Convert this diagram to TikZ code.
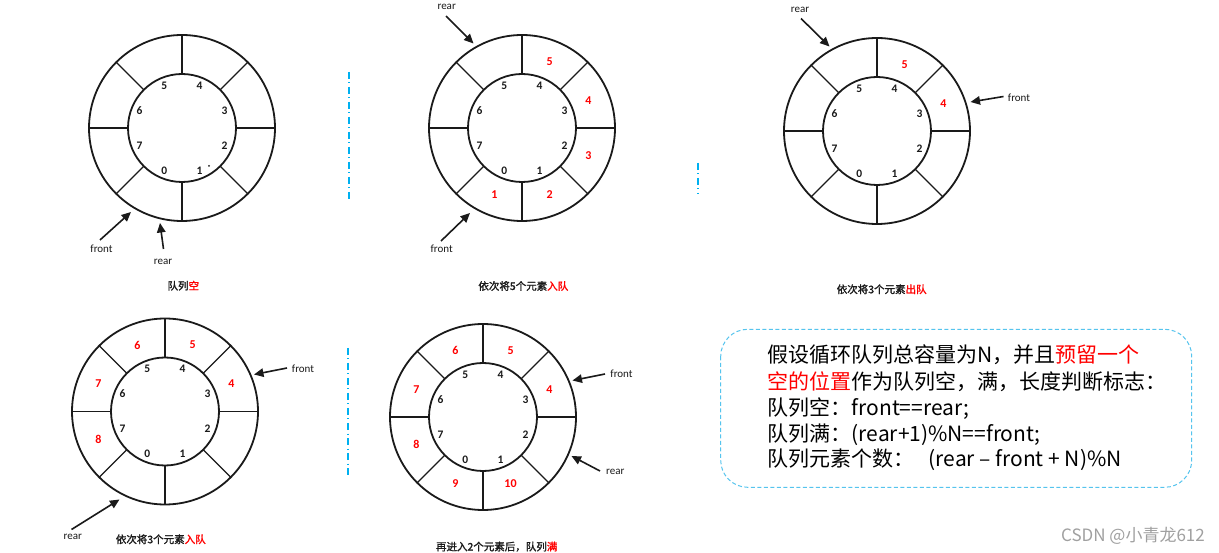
\documentclass[tikz,border=0pt]{standalone}
\usepackage{fontspec}
\setmainfont{Carlito}
\newfontfamily\cjk{Noto Sans CJK SC}
\newfontfamily\cjkb[FakeBold=1.5]{Noto Sans CJK SC}
\usetikzlibrary{arrows.meta}
\definecolor{qred}{HTML}{FF0000}
\definecolor{sepblue}{HTML}{00B0F0}
\definecolor{boxblue}{HTML}{55C4EE}
\definecolor{wm}{HTML}{A0A0A0}
\definecolor{ink}{HTML}{1A1A1A}
\tikzset{
  ringline/.style={line width=1.8pt, draw=ink},
  divline/.style={line width=1.3pt, draw=ink},
  idx/.style={font=\fontsize{11.5}{12}\selectfont\bfseries, text=ink, inner sep=0pt},
  val/.style={font=\fontsize{12}{13}\selectfont\bfseries, text=qred, inner sep=0pt},
  ptr/.style={line width=1.6pt, draw=ink, -{Triangle[length=9.5pt,width=8.5pt]}},
  ptrlabel/.style={font=\fontsize{11}{12}\selectfont, text=ink, inner sep=0pt},
  capt/.style={font={\cjkb\fontsize{10.5}{12}\selectfont}, text=ink, inner sep=0pt},
  sepline/.style={draw=sepblue, line width=2pt, dash pattern=on 7pt off 3.5pt on 1pt off 3.5pt},
  boxline/.style={draw=boxblue, line width=1pt, dash pattern=on 4pt off 2.5pt, rounded corners=27pt},
  boxtext/.style={font={\cjk\fontsize{21}{25}\selectfont}, text=black, inner sep=0pt, anchor=base west},
}
% ring: name, x, y
\newcommand\qring[3]{%
  \coordinate (#1) at (#2,#3);
  \draw[ringline] (#1) circle (93pt);
  \draw[ringline] (#1) circle (54pt);
  \foreach \a in {0,45,...,315}
    \draw[divline] ([shift={(\a:54pt)}]#1) -- ([shift={(\a:93pt)}]#1);
  \foreach \i in {0,...,7}{%
    \pgfmathsetmacro\ang{247.5+45*\i}
    \node[idx] (#1-i\i) at ([shift={(\ang:46pt)}]#1) {\i};
  }%
}
% values: name, list slot/value
\newcommand\qvals[2]{%
  \foreach \s/\v in {#2}{%
    \pgfmathsetmacro\ang{247.5+45*\s}
    \node[val] (#1-v\s) at ([shift={(\ang:72pt)}]#1) {\v};
  }%
}
\begin{document}
\begin{tikzpicture}[x=1pt,y=-1pt]
\fill[white] (0,0) rectangle (1219,553);
\useasboundingbox (0,0) rectangle (1219,553);

% ---------- ring 1: empty ----------
\qring{ra}{182}{128}
\fill[ink] (209,166) circle (1pt);
\coordinate (ra-ft) at (100,240);
\coordinate (ra-fh) at (131,212);
\draw[ptr] (ra-ft) -- (ra-fh);
\node[ptrlabel] (ra-fl) at (101.5,248.5) {front};
\coordinate (ra-rt) at (163.5,249);
\coordinate (ra-rh) at (160,223);
\draw[ptr] (ra-rt) -- (ra-rh);
\node[ptrlabel] (ra-rl) at (163,262) {rear};
\node[capt] (ra-cap) at (183.3,285.7) {队列\textcolor{qred}{空}};

% ---------- ring 2: 5 enqueued ----------
\qring{rb}{522}{128}
\qvals{rb}{0/1,1/2,2/3,3/4,4/5}
\coordinate (rb-rt) at (446,16);
\coordinate (rb-rh) at (473.5,43.5);
\draw[ptr] (rb-rt) -- (rb-rh);
\node[ptrlabel] (rb-rl) at (446.7,7) {rear};
\coordinate (rb-ft) at (441,241);
\coordinate (rb-fh) at (470,213);
\draw[ptr] (rb-ft) -- (rb-fh);
\node[ptrlabel] (rb-fl) at (441.7,249) {front};
\node[capt] (rb-cap) at (523.3,286) {依次将5个元素\textcolor{qred}{入队}};

% ---------- ring 3: 3 dequeued ----------
\qring{rc}{877}{131}
\qvals{rc}{3/4,4/5}
\coordinate (rc-rt) at (801,18.5);
\coordinate (rc-rh) at (829.5,46.5);
\draw[ptr] (rc-rt) -- (rc-rh);
\node[ptrlabel] (rc-rl) at (800,10) {rear};
\coordinate (rc-ft) at (1003.5,96.5);
\coordinate (rc-fh) at (970.5,102);
\draw[ptr] (rc-ft) -- (rc-fh);
\node[ptrlabel] (rc-fl) at (1019,97.3) {front};
\node[capt] (rc-cap) at (881.7,289.3) {依次将3个元素\textcolor{qred}{出队}};

% ---------- ring 4: 3 more enqueued ----------
\qring{rd}{165}{411.5}
\qvals{rd}{3/4,4/5,5/6,6/7,7/8}
\coordinate (rd-ft) at (287,368);
\coordinate (rd-fh) at (254,374.5);
\draw[ptr] (rd-ft) -- (rd-fh);
\node[ptrlabel] (rd-fl) at (303,368.3) {front};
\coordinate (rd-rt) at (71.5,529.5);
\coordinate (rd-rh) at (119.5,499.5);
\draw[ptr] (rd-rt) -- (rd-rh);
\node[ptrlabel] (rd-rl) at (72.8,537.3) {rear};
\node[capt] (rd-cap) at (160.8,539.3) {依次将3个元素\textcolor{qred}{入队}};

% ---------- ring 5: full ----------
\qring{re}{483}{417}
\qvals{re}{0/9,1/10,3/4,4/5,5/6,6/7,7/8}
\coordinate (re-ft) at (605,374);
\coordinate (re-fh) at (572.5,380.5);
\draw[ptr] (re-ft) -- (re-fh);
\node[ptrlabel] (re-fl) at (621.5,374) {front};
\coordinate (re-rt) at (600,471);
\coordinate (re-rh) at (571.5,456);
\draw[ptr] (re-rt) -- (re-rh);
\node[ptrlabel] (re-rl) at (615.3,472) {rear};
\node[capt] (re-cap) at (496.7,546.7) {再进入2个元素后，队列\textcolor{qred}{满}};

% ---------- separators ----------
\coordinate (s1a) at (349.3,72);  \coordinate (s1b) at (349.3,200);
\coordinate (s2a) at (698.3,163); \coordinate (s2b) at (698.3,193.5);
\coordinate (s3a) at (348.3,348); \coordinate (s3b) at (348.3,476);
\draw[sepline] (s1a) -- (s1b);
\draw[sepline] (s2a) -- (s2b);
\draw[sepline] (s3a) -- (s3b);

% ---------- explanation box ----------
\draw[boxline] (720.7,329.3) rectangle (1191.7,487.3);
\node[boxtext] (l1) at (767.5,362.8) {假设循环队列总容量为N，并且\textcolor{qred}{预留一个}};
\node[boxtext] (l2) at (767.5,389.2) {\textcolor{qred}{空的位置}作为队列空，满，长度判断标志：};
\node[boxtext] (l3) at (767.5,415.0) {队列空：front==rear;};
\node[boxtext] (l4) at (767.5,441.0) {队列满：(rear+1)\%N==front;};
\node[boxtext] (l5) at (767.5,466.0) {队列元素个数：\hspace{14pt}(rear – front + N)\%N};

% ---------- watermark ----------
\node[font={\cjk\fontsize{17}{18}\selectfont}, text=wm, anchor=east, inner sep=0pt] (wmk) at (1205,536) {CSDN @小青龙612};
\end{tikzpicture}
\end{document}
